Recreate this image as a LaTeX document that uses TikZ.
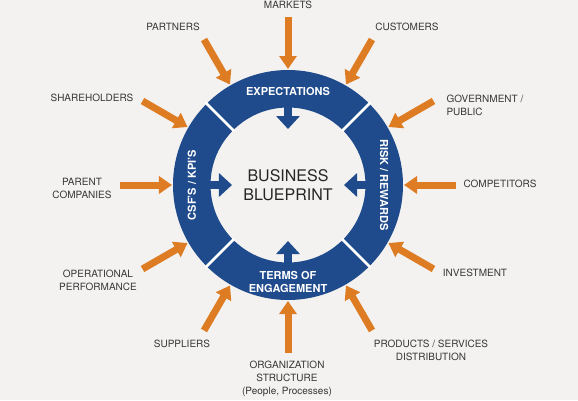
\documentclass[tikz,border=0pt]{standalone}
\usepackage{fontspec}
\setmainfont{TeX Gyre Heros}
\usetikzlibrary{calc}
\usetikzlibrary{arrows.meta}
\definecolor{BPblue}{RGB}{31,75,140}
\definecolor{BPorange}{RGB}{222,124,35}
\definecolor{BPgrey}{RGB}{243,242,240}
\definecolor{BPtext}{RGB}{55,55,55}

\begin{document}
\begin{tikzpicture}[x=1pt, y=1pt,
  Zufluss/.style={BPorange, line width=7pt, arrows = -{Triangle[width=17pt, length=13pt]}},
  Innen/.style={BPblue, line width=8pt, arrows = -{Triangle[width=23pt, length=13pt]}},
  Trenn/.style={white, line width=2.5pt},
  Feld/.style={text=BPtext, font=\fontsize{10}{13}\selectfont, align=center},
  Ring/.style={text=white, font=\bfseries\fontsize{11}{13}\selectfont, align=center}]
\useasboundingbox (-288,-215) rectangle (290,185);
\fill[BPgrey] (-288,-215) rectangle (290,185);
\coordinate (m) at (0,0);
% ring with four fields
\fill[BPblue, even odd rule] (m) circle (115pt) (m) circle (77.5pt);
\draw[Trenn] ($(m)+(45:76)$) -- ($(m)+(45:117)$);
\draw[Trenn] ($(m)+(135:76)$) -- ($(m)+(135:117)$);
\draw[Trenn] ($(m)+(225:76)$) -- ($(m)+(225:117)$);
\draw[Trenn] ($(m)+(315:76)$) -- ($(m)+(315:117)$);
\draw[Innen] ($(m)+(90:82)$) -- ($(m)+(90:56)$);
\draw[Innen] ($(m)+(180:82)$) -- ($(m)+(180:56)$);
\draw[Innen] ($(m)+(0:82)$) -- ($(m)+(0:56)$);
\draw[Innen] ($(m)+(270:82)$) -- ($(m)+(270:56)$);
\node[Ring] (exp) at ($(m)+(0,94)$) {EXPECTATIONS};
\node[Ring] (toe) at ($(m)+(0,-96.5)$) {TERMS OF\\ENGAGEMENT};
\node[Ring, rotate=90] (csf) at ($(m)+(180:96)$) {CSF'S / KPI'S};
\node[Ring, rotate=-90] (risk) at ($(m)+(0:96)$) {RISK / REWARDS};
\node[text=black!85, font=\fontsize{16}{19}\selectfont, align=center] (bb) at ($(m)+(0,-0.5)$) {BUSINESS\\BLUEPRINT};
% outer fields
\node[Feld] (mar) at (0,180.5) {MARKETS};
\node[Feld] (cus) at (119,158) {CUSTOMERS};
\node[Feld, align=left, anchor=west] (gov) at (155,80) {GOVERNMENT /\\PUBLIC};
\node[Feld] (com) at (212,1) {COMPETITORS};
\node[Feld] (inv) at (187,-88) {INVESTMENT};
\node[Feld] (pro) at (143,-165.5) {PRODUCTS / SERVICES\\DISTRIBUTION};
\node[Feld] (org) at (-1,-193.5) {ORGANIZATION\\STRUCTURE\\(People, Processes)};
\node[Feld] (sup) at (-106,-159) {SUPPLIERS};
\node[Feld] (ope) at (-190,-95) {OPERATIONAL\\PERFORMANCE};
\node[Feld] (par) at (-206,-3) {PARENT\\COMPANIES};
\node[Feld] (sha) at (-196,87) {SHAREHOLDERS};
\node[Feld] (ptn) at (-115,158) {PARTNERS};
% arrows into the ring
\draw[Zufluss] ($(m)+(90:168)$) -- ($(m)+(90:116)$);
\draw[Zufluss] ($(m)+(60:168)$) -- ($(m)+(60:116)$);
\draw[Zufluss] ($(m)+(30:168)$) -- ($(m)+(30:116)$);
\draw[Zufluss] ($(m)+(0:168)$) -- ($(m)+(0:116)$);
\draw[Zufluss] ($(m)+(-30:168)$) -- ($(m)+(-30:116)$);
\draw[Zufluss] ($(m)+(-60:168)$) -- ($(m)+(-60:116)$);
\draw[Zufluss] ($(m)+(-90:168)$) -- ($(m)+(-90:116)$);
\draw[Zufluss] ($(m)+(-120:168)$) -- ($(m)+(-120:116)$);
\draw[Zufluss] ($(m)+(-150:168)$) -- ($(m)+(-150:116)$);
\draw[Zufluss] ($(m)+(180:168)$) -- ($(m)+(180:116)$);
\draw[Zufluss] ($(m)+(150:168)$) -- ($(m)+(150:116)$);
\draw[Zufluss] ($(m)+(120:168)$) -- ($(m)+(120:116)$);
\end{tikzpicture}
\end{document}
